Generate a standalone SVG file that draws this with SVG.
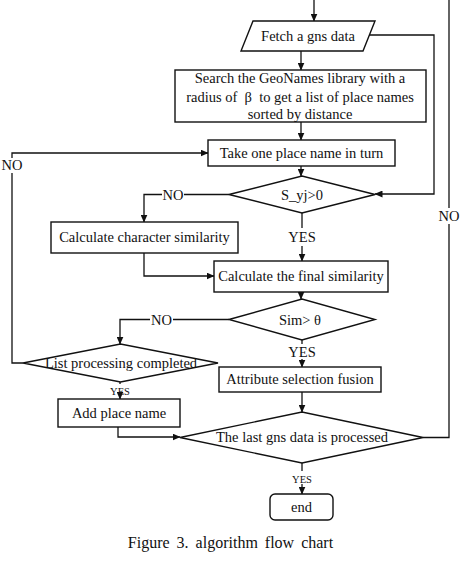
<svg xmlns="http://www.w3.org/2000/svg" width="474" height="577" viewBox="0 0 474 577">
<defs>
<style>
.s{fill:#fff;stroke:#111;stroke-width:1.4}
.c{fill:none;stroke:#111;stroke-width:1.3}
.t{font-family:'Liberation Serif','Times New Roman','DejaVu Serif',serif;font-size:14.5px;fill:#111;text-anchor:middle}
.sm{font-size:10.5px}
</style>
<marker id="a" markerWidth="8" markerHeight="7" refX="7.5" refY="3.5" orient="auto" markerUnits="userSpaceOnUse">
<path d="M0,0 L8,3.5 L0,7 z" fill="#111"/>
</marker>
</defs>
<rect width="474" height="577" fill="#fff"/>
<g id="connectors">
<path class="c" d="M314,0 V21" marker-end="url(#a)"/>
<path class="c" d="M301,51 V70" marker-end="url(#a)"/>
<path class="c" d="M301,122 V140" marker-end="url(#a)"/>
<path class="c" d="M301,166 V176" marker-end="url(#a)"/>
<path class="c" d="M369,35 H434 V194 H375" marker-end="url(#a)"/>
<path class="c" d="M229,194.5 H184"/>
<path class="c" d="M162,194.5 H144 V222" marker-end="url(#a)"/>
<path class="c" d="M302,213 V228"/>
<path class="c" d="M302,246 V261" marker-end="url(#a)"/>
<path class="c" d="M144,253 V276 H214" marker-end="url(#a)"/>
<path class="c" d="M301,292 V299" marker-end="url(#a)"/>
<path class="c" d="M229,319.5 H173"/>
<path class="c" d="M150,319.5 H120 V344" marker-end="url(#a)"/>
<path class="c" d="M302,340 V344"/>
<path class="c" d="M302,359 V367" marker-end="url(#a)"/>
<path class="c" d="M23,363 H12 V173"/>
<path class="c" d="M12,158 V153 H208" marker-end="url(#a)"/>
<path class="c" d="M120,382 V384"/>
<path class="c" d="M120,396 V399" marker-end="url(#a)"/>
<path class="c" d="M302,392 V412" marker-end="url(#a)"/>
<path class="c" d="M118,427 V437 H180" marker-end="url(#a)"/>
<path class="c" d="M423,437.5 H449 V224"/>
<path class="c" d="M449,208 V0"/>
<path class="c" d="M302,463 V471"/>
<path class="c" d="M302,484 V494" marker-end="url(#a)"/>
<text class="t" x="173" y="199.5">NO</text>
<text class="t" x="161.5" y="324.5">NO</text>
<text class="t" x="12" y="170">NO</text>
<text class="t" x="449" y="221">NO</text>
<text class="t" x="302" y="242">YES</text>
<text class="t" x="302" y="357">YES</text>
<text class="t sm" x="120" y="394.5">YES</text>
<text class="t sm" x="302" y="482.5">YES</text>
</g>
<g id="fetch">
<polygon class="s" points="253,21 375,21 363,51 241,51"/>
<text class="t" x="308" y="41">Fetch a gns data</text>
</g>
<g id="search">
<rect class="s" x="175" y="70" width="251" height="52"/>
<text class="t" x="300" y="83">Search the GeoNames library with a</text>
<text class="t" x="300" y="101.5" xml:space="preserve">radius of  β  to get a list of place names</text>
<text class="t" x="300" y="119">sorted by distance</text>
</g>
<g id="take">
<rect class="s" x="208" y="140" width="187" height="26"/>
<text class="t" x="301.5" y="158">Take one place name in turn</text>
</g>
<g id="syj">
<polygon class="s" points="229,194.5 302,176 375,194.5 302,213"/>
<text class="t" x="302" y="199.5">S_yj&gt;0</text>
</g>
<g id="charsim">
<rect class="s" x="51" y="222" width="187" height="31"/>
<text class="t" x="144.5" y="242">Calculate character similarity</text>
</g>
<g id="finalsim">
<rect class="s" x="214" y="261" width="174" height="31"/>
<text class="t" x="301" y="281">Calculate the final similarity</text>
</g>
<g id="sim">
<polygon class="s" points="229,319.5 302,299 375,319.5 302,340"/>
<text class="t" x="300" y="324.5">Sim&gt; θ</text>
</g>
<g id="listdone">
<polygon class="s" points="23,363 120.5,344 218,363 120.5,382"/>
<text class="t" x="121" y="367.5">List processing completed</text>
</g>
<g id="attr">
<rect class="s" x="219" y="367" width="162" height="25"/>
<text class="t" x="300" y="384">Attribute selection fusion</text>
</g>
<g id="addplace">
<rect class="s" x="58" y="399" width="122" height="28"/>
<text class="t" x="119" y="418">Add place name</text>
</g>
<g id="lastgns">
<polygon class="s" points="180,437.5 302,412 423,437.5 302,463"/>
<text class="t" x="302" y="442">The last gns data is processed</text>
</g>
<g id="end">
<rect class="s" x="270" y="494" width="63" height="26" rx="5"/>
<text class="t" x="301.5" y="512">end</text>
</g>
<text class="t" x="230.5" y="548" style="font-size:16px;word-spacing:3px">Figure 3. algorithm flow chart</text>
</svg>
